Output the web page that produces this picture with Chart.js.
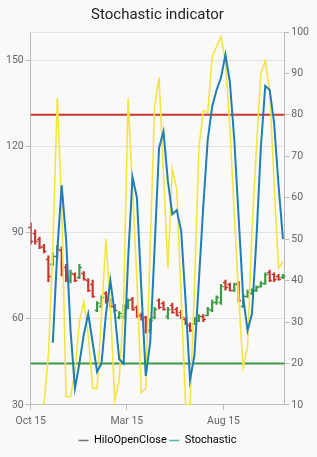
<!DOCTYPE html>
<html>
<head>
<meta charset="utf-8">
<script src="https://cdn.jsdelivr.net/npm/chart.js@4.4.0/dist/chart.umd.min.js"></script>
<style>
  html, body { margin: 0; padding: 0; background: #f9f9f9; }
  #wrap { width: 317px; height: 457px; }
</style>
</head>
<body>
<div id="wrap"><canvas id="chart" width="317" height="457"></canvas></div>
<script>
// weekly samples, first one on 15 Oct 2015
const startDate = '2015-10-15';
const tickDates = ['2015-10-15', '2016-03-15', '2016-08-15'];
const tickLabels = ['Oct 15', 'Mar 15', 'Aug 15'];

const opens  = [92,90,88,85.5,81,79,82,84,78,73.5, 75.5,74.5,76,73.5,72,63,64.5,69,66.5,64.5,
                60.5,61,64,67,64,61.5,60.5,56,60.5,66.5, 65.5,61,65,63.5,62.5,60,58,58.5,59.5,61,
                61.5,63,66,66,73,72,70,72.5,64.5,68, 69,70,71.5,72.5,76.5,75.5,75,74.5];
const highs  = [93.5,91,88.5,86,82,83,85.5,85,79,77, 76,79,76.5,74,73.5,66,68,69.5,67,65,
                62.5,65,67,67.5,64.5,62,61,60,64,67, 66,64,65.5,64,63,60.5,58.6,60.5,61.5,61.5,
                64,66.5,68,72,73.5,72.5,72.5,73,68.5,70, 70.5,71.5,73,76,77,76,75.5,75.5];
const lows   = [86,86,84.5,83,73,78.5,81,75,73,72.5, 73,74,73.5,69.5,67.5,62.5,64,65.5,64,62.5,
                60,60,63.5,63,60.5,59.5,55,55,60,63.5, 63,60,62,61,60,58,55.5,58,59,59,
                61,62.5,65,65,70,69.7,69.5,66,64,67.5, 68.5,69.5,71,72,73,73,73.5,74];
const closes = [87,87,85,83.5,75,82,84.5,77,74,76, 73.5,78,74,70,68,65.5,67.5,66.5,64.5,63,
                62,64.5,66.5,63.5,61,60,56,59.5,63.5,64, 63.5,63.5,62.5,61.5,60.5,58.5,56,60,61,60,
                63.5,66,67.5,71.5,71,70,72,66.5,68,69.5, 70,71,72.5,75.5,73.5,74,74,75];

// stochastic: fast line (yellow) and period line (blue)
const kValues = [null,null,null,10,22,48,84,58,12,12, 18,30,35,27,14,14,32,50,34,11,
                 16,34,84,62,40,13,14,48,82,89, 66,43,67,62,36,10,10,38,72,81,
                 80.5,94,96.5,98.8,93,77,56,36,19,24, 52,72,90,93,86,63,43,44.5];
const dValues = [null,null,null,null,null,25,47,63,50,28, 14,20,27,32,25,18,20,32,40,32,
                 21,20,45,65,60,38,17,25,48,72, 76,64,56,57,52,35,16,22,40,58,
                 74,82,86,89,94.5,88,74,55,36,28, 32,50,72,87,86,78,63,50];
const overBought = 80;
const overSold = 20;

const DAY = 86400000;
const t0 = new Date(startDate).getTime();
const tickWeeks = tickDates.map(d => (new Date(d).getTime() - t0) / DAY / 7);

const RED = '#c9372c';
const GREEN = '#3d9a45';

const hiloTicks = {
  id: 'hiloTicks',
  afterDatasetDraw(chart, args) {
    if (args.index !== 0) return;
    const ctx = chart.ctx;
    const y = chart.scales.y;
    ctx.save();
    ctx.lineWidth = 1.5;
    args.meta.data.forEach((bar, i) => {
      ctx.strokeStyle = closes[i] >= opens[i] ? GREEN : RED;
      const yo = Math.round(y.getPixelForValue(opens[i])) + 0.5;
      const yc = Math.round(y.getPixelForValue(closes[i])) + 0.5;
      ctx.beginPath();
      ctx.moveTo(bar.x - 2.5, yo); ctx.lineTo(bar.x, yo);
      ctx.moveTo(bar.x, yc); ctx.lineTo(bar.x + 2.5, yc);
      ctx.stroke();
    });
    ctx.restore();
  }
};

const levelLines = {
  id: 'levelLines',
  beforeDatasetsDraw(chart) {
    const ctx = chart.ctx;
    const a = chart.chartArea;
    const y = chart.scales.y2;
    ctx.save();
    ctx.lineWidth = 2;
    [[overBought, RED], [overSold, GREEN]].forEach(([v, c]) => {
      const py = y.getPixelForValue(v);
      ctx.strokeStyle = c;
      ctx.beginPath();
      ctx.moveTo(a.left, py);
      ctx.lineTo(a.right, py);
      ctx.stroke();
    });
    ctx.restore();
  }
};

const tickFont = { family: 'Roboto', size: 10.5 };

new Chart(document.getElementById('chart'), {
  data: {
    datasets: [
      {
        type: 'bar',
        label: 'HiloOpenClose',
        data: lows.map((l, i) => ({ x: i, y: [l, highs[i]] })),
        backgroundColor: closes.map((c, i) => c >= opens[i] ? GREEN : RED),
        barThickness: 1.5,
        yAxisID: 'y',
        order: 3
      },
      {
        type: 'line',
        label: 'Signal',
        data: kValues.map((v, i) => ({ x: i, y: v })),
        borderColor: '#f3e540',
        borderWidth: 1.6,
        pointRadius: 0,
        yAxisID: 'y2',
        order: 2
      },
      {
        type: 'line',
        label: 'Stochastic',
        data: dValues.map((v, i) => ({ x: i, y: v })),
        borderColor: '#1f7db5',
        borderWidth: 2,
        pointRadius: 0,
        yAxisID: 'y2',
        order: 1
      }
    ]
  },
  options: {
    responsive: false,
    animation: false,
    devicePixelRatio: 1,
    layout: { padding: { left: 4, right: 6, top: 0, bottom: 1 } },
    plugins: {
      title: {
        display: true,
        text: 'Stochastic indicator',
        color: '#222',
        font: { family: 'Roboto', size: 15, weight: 'normal' },
        padding: { top: 6, bottom: 8 }
      },
      legend: {
        position: 'bottom',
        labels: {
          color: '#333',
          font: { family: 'Roboto', size: 11 },
          usePointStyle: true,
          pointStyleWidth: 10,
          padding: 2.5,
          generateLabels: () => [
            { text: 'HiloOpenClose', strokeStyle: '#777', fillStyle: '#777', lineWidth: 1.5, pointStyle: 'line', datasetIndex: 0 },
            { text: 'Stochastic', strokeStyle: '#55b3aa', fillStyle: '#55b3aa', lineWidth: 1.5, pointStyle: 'line', datasetIndex: 2 }
          ]
        }
      },
      tooltip: { enabled: false }
    },
    scales: {
      x: {
        type: 'linear',
        offset: false,
        min: 0,
        max: 57.3,
        afterBuildTicks: s => { s.ticks = tickWeeks.map(v => ({ value: v })); },
        ticks: {
          autoSkip: false,
          maxRotation: 0,
          color: '#666',
          font: tickFont,
          padding: 5,
          callback: v => tickLabels[tickWeeks.indexOf(v)]
        },
        grid: { offset: false, drawOnChartArea: false, color: '#bbb', tickLength: 5 },
        border: { color: '#bbb' }
      },
      y: {
        position: 'left',
        min: 30,
        max: 160,
        afterBuildTicks: s => { s.ticks = [30, 60, 90, 120, 150, 160].map(v => ({ value: v })); },
        ticks: {
          color: '#666',
          font: tickFont,
          padding: 2,
          callback: v => v === 160 ? '' : v
        },
        grid: {
          color: c => c.tick && c.tick.value === 30 ? 'rgba(0,0,0,0)' : '#e2e2e2',
          tickColor: c => c.tick && c.tick.value === 160 ? 'rgba(0,0,0,0)' : '#bbb',
          tickLength: 5
        },
        border: { color: '#bbb' }
      },
      y2: {
        position: 'right',
        min: 10,
        max: 100,
        ticks: { stepSize: 10, color: '#666', font: tickFont, padding: 2 },
        grid: { drawOnChartArea: false, color: '#bbb', tickLength: 5 },
        border: { color: '#bbb' }
      }
    }
  },
  plugins: [hiloTicks, levelLines]
});
</script>
</body>
</html>
